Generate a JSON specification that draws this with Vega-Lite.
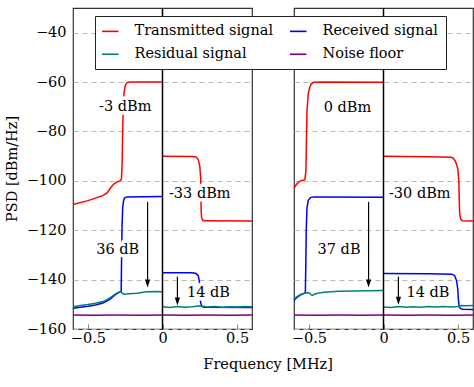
{
  "$schema": "https://vega.github.io/schema/vega-lite/v6.json",
  "padding": {"left": 3, "top": 6, "right": 0, "bottom": 0},
  "datasets": {
    "curves": [
      {"chart":"A","part":"L","series":"Transmitted signal","freq":-0.6,"psd":-109.6},
      {"chart":"A","part":"L","series":"Transmitted signal","freq":-0.5,"psd":-108},
      {"chart":"A","part":"L","series":"Transmitted signal","freq":-0.45,"psd":-107},
      {"chart":"A","part":"L","series":"Transmitted signal","freq":-0.4,"psd":-106},
      {"chart":"A","part":"L","series":"Transmitted signal","freq":-0.37,"psd":-104.8},
      {"chart":"A","part":"L","series":"Transmitted signal","freq":-0.345,"psd":-102.6},
      {"chart":"A","part":"L","series":"Transmitted signal","freq":-0.325,"psd":-101.2},
      {"chart":"A","part":"L","series":"Transmitted signal","freq":-0.305,"psd":-100.4},
      {"chart":"A","part":"L","series":"Transmitted signal","freq":-0.285,"psd":-100},
      {"chart":"A","part":"L","series":"Transmitted signal","freq":-0.275,"psd":-99.2},
      {"chart":"A","part":"L","series":"Transmitted signal","freq":-0.27,"psd":-92},
      {"chart":"A","part":"L","series":"Transmitted signal","freq":-0.267,"psd":-80},
      {"chart":"A","part":"L","series":"Transmitted signal","freq":-0.263,"psd":-70},
      {"chart":"A","part":"L","series":"Transmitted signal","freq":-0.258,"psd":-64.5},
      {"chart":"A","part":"L","series":"Transmitted signal","freq":-0.25,"psd":-61.5},
      {"chart":"A","part":"L","series":"Transmitted signal","freq":-0.24,"psd":-60.3},
      {"chart":"A","part":"L","series":"Transmitted signal","freq":-0.22,"psd":-60},
      {"chart":"A","part":"L","series":"Transmitted signal","freq":0,"psd":-60},
      {"chart":"A","part":"L","series":"Received signal","freq":-0.6,"psd":-151.6},
      {"chart":"A","part":"L","series":"Received signal","freq":-0.5,"psd":-150.8},
      {"chart":"A","part":"L","series":"Received signal","freq":-0.45,"psd":-150.3},
      {"chart":"A","part":"L","series":"Received signal","freq":-0.4,"psd":-149.5},
      {"chart":"A","part":"L","series":"Received signal","freq":-0.37,"psd":-148.6},
      {"chart":"A","part":"L","series":"Received signal","freq":-0.345,"psd":-147.6},
      {"chart":"A","part":"L","series":"Received signal","freq":-0.32,"psd":-146.3},
      {"chart":"A","part":"L","series":"Received signal","freq":-0.3,"psd":-145.5},
      {"chart":"A","part":"L","series":"Received signal","freq":-0.285,"psd":-145},
      {"chart":"A","part":"L","series":"Received signal","freq":-0.277,"psd":-144.7},
      {"chart":"A","part":"L","series":"Received signal","freq":-0.274,"psd":-130},
      {"chart":"A","part":"L","series":"Received signal","freq":-0.271,"psd":-118},
      {"chart":"A","part":"L","series":"Received signal","freq":-0.267,"psd":-111},
      {"chart":"A","part":"L","series":"Received signal","freq":-0.262,"psd":-108.3},
      {"chart":"A","part":"L","series":"Received signal","freq":-0.255,"psd":-107},
      {"chart":"A","part":"L","series":"Received signal","freq":-0.24,"psd":-106.5},
      {"chart":"A","part":"L","series":"Received signal","freq":0,"psd":-106.3},
      {"chart":"A","part":"L","series":"Residual signal","freq":-0.6,"psd":-151},
      {"chart":"A","part":"L","series":"Residual signal","freq":-0.55,"psd":-150.5},
      {"chart":"A","part":"L","series":"Residual signal","freq":-0.5,"psd":-150.1},
      {"chart":"A","part":"L","series":"Residual signal","freq":-0.45,"psd":-149.6},
      {"chart":"A","part":"L","series":"Residual signal","freq":-0.4,"psd":-148.9},
      {"chart":"A","part":"L","series":"Residual signal","freq":-0.37,"psd":-148},
      {"chart":"A","part":"L","series":"Residual signal","freq":-0.345,"psd":-147.1},
      {"chart":"A","part":"L","series":"Residual signal","freq":-0.32,"psd":-146},
      {"chart":"A","part":"L","series":"Residual signal","freq":-0.3,"psd":-145.3},
      {"chart":"A","part":"L","series":"Residual signal","freq":-0.285,"psd":-144.9},
      {"chart":"A","part":"L","series":"Residual signal","freq":-0.275,"psd":-145.2},
      {"chart":"A","part":"L","series":"Residual signal","freq":-0.26,"psd":-145.9},
      {"chart":"A","part":"L","series":"Residual signal","freq":-0.24,"psd":-145.8},
      {"chart":"A","part":"L","series":"Residual signal","freq":-0.2,"psd":-145.6},
      {"chart":"A","part":"L","series":"Residual signal","freq":-0.17,"psd":-145.5},
      {"chart":"A","part":"L","series":"Residual signal","freq":-0.13,"psd":-145.1},
      {"chart":"A","part":"L","series":"Residual signal","freq":-0.1,"psd":-144.9},
      {"chart":"A","part":"L","series":"Residual signal","freq":-0.05,"psd":-144.8},
      {"chart":"A","part":"L","series":"Residual signal","freq":0,"psd":-144.9},
      {"chart":"A","part":"L","series":"Noise floor","freq":-0.6,"psd":-154.3},
      {"chart":"A","part":"L","series":"Noise floor","freq":-0.45,"psd":-154.4},
      {"chart":"A","part":"L","series":"Noise floor","freq":-0.3,"psd":-154.3},
      {"chart":"A","part":"L","series":"Noise floor","freq":-0.15,"psd":-154.4},
      {"chart":"A","part":"L","series":"Noise floor","freq":0,"psd":-154.3},

      {"chart":"A","part":"R","series":"Transmitted signal","freq":0,"psd":-90},
      {"chart":"A","part":"R","series":"Transmitted signal","freq":0.2,"psd":-90.1},
      {"chart":"A","part":"R","series":"Transmitted signal","freq":0.225,"psd":-90.3},
      {"chart":"A","part":"R","series":"Transmitted signal","freq":0.24,"psd":-91.5},
      {"chart":"A","part":"R","series":"Transmitted signal","freq":0.25,"psd":-94},
      {"chart":"A","part":"R","series":"Transmitted signal","freq":0.256,"psd":-99},
      {"chart":"A","part":"R","series":"Transmitted signal","freq":0.258,"psd":-106},
      {"chart":"A","part":"R","series":"Transmitted signal","freq":0.259,"psd":-112},
      {"chart":"A","part":"R","series":"Transmitted signal","freq":0.262,"psd":-114.8},
      {"chart":"A","part":"R","series":"Transmitted signal","freq":0.268,"psd":-115.8},
      {"chart":"A","part":"R","series":"Transmitted signal","freq":0.28,"psd":-116.2},
      {"chart":"A","part":"R","series":"Transmitted signal","freq":0.6,"psd":-116.3},
      {"chart":"A","part":"R","series":"Received signal","freq":0,"psd":-137.2},
      {"chart":"A","part":"R","series":"Received signal","freq":0.2,"psd":-137.2},
      {"chart":"A","part":"R","series":"Received signal","freq":0.225,"psd":-137.5},
      {"chart":"A","part":"R","series":"Received signal","freq":0.24,"psd":-138.5},
      {"chart":"A","part":"R","series":"Received signal","freq":0.248,"psd":-141},
      {"chart":"A","part":"R","series":"Received signal","freq":0.252,"psd":-145},
      {"chart":"A","part":"R","series":"Received signal","freq":0.255,"psd":-149},
      {"chart":"A","part":"R","series":"Received signal","freq":0.262,"psd":-150.6},
      {"chart":"A","part":"R","series":"Received signal","freq":0.275,"psd":-151.2},
      {"chart":"A","part":"R","series":"Received signal","freq":0.6,"psd":-151.3},
      {"chart":"A","part":"R","series":"Residual signal","freq":0,"psd":-151},
      {"chart":"A","part":"R","series":"Residual signal","freq":0.05,"psd":-151.3},
      {"chart":"A","part":"R","series":"Residual signal","freq":0.1,"psd":-150.9},
      {"chart":"A","part":"R","series":"Residual signal","freq":0.15,"psd":-151.2},
      {"chart":"A","part":"R","series":"Residual signal","freq":0.2,"psd":-151},
      {"chart":"A","part":"R","series":"Residual signal","freq":0.25,"psd":-150.6},
      {"chart":"A","part":"R","series":"Residual signal","freq":0.3,"psd":-151.1},
      {"chart":"A","part":"R","series":"Residual signal","freq":0.35,"psd":-150.9},
      {"chart":"A","part":"R","series":"Residual signal","freq":0.4,"psd":-151.2},
      {"chart":"A","part":"R","series":"Residual signal","freq":0.45,"psd":-151},
      {"chart":"A","part":"R","series":"Residual signal","freq":0.5,"psd":-151.1},
      {"chart":"A","part":"R","series":"Residual signal","freq":0.55,"psd":-150.9},
      {"chart":"A","part":"R","series":"Residual signal","freq":0.6,"psd":-151},
      {"chart":"A","part":"R","series":"Noise floor","freq":0,"psd":-154.3},
      {"chart":"A","part":"R","series":"Noise floor","freq":0.15,"psd":-154.4},
      {"chart":"A","part":"R","series":"Noise floor","freq":0.3,"psd":-154.3},
      {"chart":"A","part":"R","series":"Noise floor","freq":0.45,"psd":-154.4},
      {"chart":"A","part":"R","series":"Noise floor","freq":0.6,"psd":-154.3},

      {"chart":"B","part":"L","series":"Transmitted signal","freq":-0.6,"psd":-103},
      {"chart":"B","part":"L","series":"Transmitted signal","freq":-0.59,"psd":-102},
      {"chart":"B","part":"L","series":"Transmitted signal","freq":-0.575,"psd":-100.8},
      {"chart":"B","part":"L","series":"Transmitted signal","freq":-0.56,"psd":-100.1},
      {"chart":"B","part":"L","series":"Transmitted signal","freq":-0.54,"psd":-99.8},
      {"chart":"B","part":"L","series":"Transmitted signal","freq":-0.527,"psd":-99.5},
      {"chart":"B","part":"L","series":"Transmitted signal","freq":-0.52,"psd":-96},
      {"chart":"B","part":"L","series":"Transmitted signal","freq":-0.517,"psd":-85},
      {"chart":"B","part":"L","series":"Transmitted signal","freq":-0.513,"psd":-72},
      {"chart":"B","part":"L","series":"Transmitted signal","freq":-0.505,"psd":-65},
      {"chart":"B","part":"L","series":"Transmitted signal","freq":-0.495,"psd":-62.3},
      {"chart":"B","part":"L","series":"Transmitted signal","freq":-0.485,"psd":-60.8},
      {"chart":"B","part":"L","series":"Transmitted signal","freq":-0.47,"psd":-60.1},
      {"chart":"B","part":"L","series":"Transmitted signal","freq":-0.4,"psd":-60},
      {"chart":"B","part":"L","series":"Transmitted signal","freq":0,"psd":-60.1},
      {"chart":"B","part":"L","series":"Received signal","freq":-0.6,"psd":-148.3},
      {"chart":"B","part":"L","series":"Received signal","freq":-0.58,"psd":-147.2},
      {"chart":"B","part":"L","series":"Received signal","freq":-0.555,"psd":-146.2},
      {"chart":"B","part":"L","series":"Received signal","freq":-0.53,"psd":-145.5},
      {"chart":"B","part":"L","series":"Received signal","freq":-0.524,"psd":-145.3},
      {"chart":"B","part":"L","series":"Received signal","freq":-0.521,"psd":-135},
      {"chart":"B","part":"L","series":"Received signal","freq":-0.518,"psd":-120},
      {"chart":"B","part":"L","series":"Received signal","freq":-0.513,"psd":-111},
      {"chart":"B","part":"L","series":"Received signal","freq":-0.505,"psd":-108},
      {"chart":"B","part":"L","series":"Received signal","freq":-0.49,"psd":-106.8},
      {"chart":"B","part":"L","series":"Received signal","freq":-0.47,"psd":-106.5},
      {"chart":"B","part":"L","series":"Received signal","freq":0,"psd":-106.6},
      {"chart":"B","part":"L","series":"Residual signal","freq":-0.6,"psd":-147.8},
      {"chart":"B","part":"L","series":"Residual signal","freq":-0.58,"psd":-146.9},
      {"chart":"B","part":"L","series":"Residual signal","freq":-0.555,"psd":-146},
      {"chart":"B","part":"L","series":"Residual signal","freq":-0.53,"psd":-145.5},
      {"chart":"B","part":"L","series":"Residual signal","freq":-0.51,"psd":-145.3},
      {"chart":"B","part":"L","series":"Residual signal","freq":-0.497,"psd":-145.4},
      {"chart":"B","part":"L","series":"Residual signal","freq":-0.485,"psd":-146.2},
      {"chart":"B","part":"L","series":"Residual signal","freq":-0.475,"psd":-146.4},
      {"chart":"B","part":"L","series":"Residual signal","freq":-0.46,"psd":-145.8},
      {"chart":"B","part":"L","series":"Residual signal","freq":-0.43,"psd":-145.4},
      {"chart":"B","part":"L","series":"Residual signal","freq":-0.4,"psd":-145.1},
      {"chart":"B","part":"L","series":"Residual signal","freq":-0.35,"psd":-144.9},
      {"chart":"B","part":"L","series":"Residual signal","freq":-0.3,"psd":-144.7},
      {"chart":"B","part":"L","series":"Residual signal","freq":-0.2,"psd":-144.6},
      {"chart":"B","part":"L","series":"Residual signal","freq":-0.1,"psd":-144.5},
      {"chart":"B","part":"L","series":"Residual signal","freq":0,"psd":-144.4},
      {"chart":"B","part":"L","series":"Noise floor","freq":-0.6,"psd":-154.3},
      {"chart":"B","part":"L","series":"Noise floor","freq":-0.45,"psd":-154.4},
      {"chart":"B","part":"L","series":"Noise floor","freq":-0.3,"psd":-154.3},
      {"chart":"B","part":"L","series":"Noise floor","freq":-0.15,"psd":-154.4},
      {"chart":"B","part":"L","series":"Noise floor","freq":0,"psd":-154.3},

      {"chart":"B","part":"R","series":"Transmitted signal","freq":0,"psd":-90},
      {"chart":"B","part":"R","series":"Transmitted signal","freq":0.3,"psd":-90.2},
      {"chart":"B","part":"R","series":"Transmitted signal","freq":0.455,"psd":-90.4},
      {"chart":"B","part":"R","series":"Transmitted signal","freq":0.47,"psd":-91},
      {"chart":"B","part":"R","series":"Transmitted signal","freq":0.485,"psd":-92.5},
      {"chart":"B","part":"R","series":"Transmitted signal","freq":0.498,"psd":-95},
      {"chart":"B","part":"R","series":"Transmitted signal","freq":0.505,"psd":-100},
      {"chart":"B","part":"R","series":"Transmitted signal","freq":0.508,"psd":-108},
      {"chart":"B","part":"R","series":"Transmitted signal","freq":0.511,"psd":-113.5},
      {"chart":"B","part":"R","series":"Transmitted signal","freq":0.518,"psd":-115.6},
      {"chart":"B","part":"R","series":"Transmitted signal","freq":0.53,"psd":-116.2},
      {"chart":"B","part":"R","series":"Transmitted signal","freq":0.6,"psd":-116.3},
      {"chart":"B","part":"R","series":"Received signal","freq":0,"psd":-137.5},
      {"chart":"B","part":"R","series":"Received signal","freq":0.3,"psd":-137.6},
      {"chart":"B","part":"R","series":"Received signal","freq":0.46,"psd":-137.8},
      {"chart":"B","part":"R","series":"Received signal","freq":0.478,"psd":-138.5},
      {"chart":"B","part":"R","series":"Received signal","freq":0.49,"psd":-140.5},
      {"chart":"B","part":"R","series":"Received signal","freq":0.498,"psd":-144},
      {"chart":"B","part":"R","series":"Received signal","freq":0.502,"psd":-148},
      {"chart":"B","part":"R","series":"Received signal","freq":0.507,"psd":-150.8},
      {"chart":"B","part":"R","series":"Received signal","freq":0.515,"psd":-151.7},
      {"chart":"B","part":"R","series":"Received signal","freq":0.53,"psd":-152},
      {"chart":"B","part":"R","series":"Received signal","freq":0.6,"psd":-152.1},
      {"chart":"B","part":"R","series":"Residual signal","freq":0,"psd":-151.1},
      {"chart":"B","part":"R","series":"Residual signal","freq":0.05,"psd":-151.3},
      {"chart":"B","part":"R","series":"Residual signal","freq":0.1,"psd":-150.9},
      {"chart":"B","part":"R","series":"Residual signal","freq":0.15,"psd":-151.2},
      {"chart":"B","part":"R","series":"Residual signal","freq":0.2,"psd":-151},
      {"chart":"B","part":"R","series":"Residual signal","freq":0.25,"psd":-151.2},
      {"chart":"B","part":"R","series":"Residual signal","freq":0.3,"psd":-150.9},
      {"chart":"B","part":"R","series":"Residual signal","freq":0.35,"psd":-151.1},
      {"chart":"B","part":"R","series":"Residual signal","freq":0.4,"psd":-150.9},
      {"chart":"B","part":"R","series":"Residual signal","freq":0.45,"psd":-151.1},
      {"chart":"B","part":"R","series":"Residual signal","freq":0.5,"psd":-150.9},
      {"chart":"B","part":"R","series":"Residual signal","freq":0.52,"psd":-150.5},
      {"chart":"B","part":"R","series":"Residual signal","freq":0.55,"psd":-150.6},
      {"chart":"B","part":"R","series":"Residual signal","freq":0.6,"psd":-150.5},
      {"chart":"B","part":"R","series":"Noise floor","freq":0,"psd":-154.3},
      {"chart":"B","part":"R","series":"Noise floor","freq":0.15,"psd":-154.4},
      {"chart":"B","part":"R","series":"Noise floor","freq":0.3,"psd":-154.3},
      {"chart":"B","part":"R","series":"Noise floor","freq":0.45,"psd":-154.4},
      {"chart":"B","part":"R","series":"Noise floor","freq":0.6,"psd":-154.3}
    ],
    "notes": [
      {"chart":"A","label":"-3 dBm","freq":-0.25,"psd":-70.1},
      {"chart":"A","label":"36 dB","freq":-0.3,"psd":-128},
      {"chart":"A","label":"-33 dBm","freq":0.25,"psd":-105.5},
      {"chart":"A","label":"14 dB","freq":0.308,"psd":-145.5},
      {"chart":"B","label":"0 dBm","freq":-0.242,"psd":-70.5},
      {"chart":"B","label":"37 dB","freq":-0.298,"psd":-128},
      {"chart":"B","label":"-30 dBm","freq":0.243,"psd":-105.5},
      {"chart":"B","label":"14 dB","freq":0.298,"psd":-145.5}
    ],
    "arrows": [
      {"chart":"A","freq":-0.1,"top":-108.5,"head":-141.6},
      {"chart":"A","freq":0.1,"top":-138.8,"head":-148.9},
      {"chart":"B","freq":-0.1,"top":-108.5,"head":-141.6},
      {"chart":"B","freq":0.1,"top":-138.8,"head":-148.6}
    ],
    "divider": [{"freq": 0}]
  },
  "title": {"text": "Frequency [MHz]", "orient": "bottom", "anchor": "middle", "offset": 13, "dx": 28, "fontSize": 14.5, "font": "DejaVu Serif", "fontWeight": "normal", "color": "black"},
  "spacing": 42,
  "bounds": "flush",
  "hconcat": [
    {
      "width": 179,
      "height": 321,
      "view": {"stroke": "#333", "strokeWidth": 1.2},
      "layer": [
        {
          "data": {"name": "curves"},
          "transform": [{"filter": "datum.chart === 'A'"}],
          "mark": {"type": "line", "strokeWidth": 1.5},
          "encoding": {
            "x": {"field": "freq", "type": "quantitative", "scale": {"domain": [-0.6, 0.6], "nice": false, "zero": false},
                  "axis": {"values": [-0.5, 0, 0.5], "format": "~g", "title": null, "domain": false, "tickSize": -5, "tickColor": "#888", "labelPadding": 7, "labelFlush": false, "labelOverlap": false, "grid": false, "labelFont": "DejaVu Serif", "labelFontSize": 14.5, "labelColor": "black"}},
            "y": {"field": "psd", "type": "quantitative", "scale": {"domain": [-160, -30], "nice": false, "zero": false},
                  "axis": {"values": [-160, -140, -120, -100, -80, -60, -40], "title": "PSD [dBm/Hz]", "domain": false, "ticks": false, "labelPadding": 7, "titlePadding": 7, "grid": true, "gridColor": "#b8b8b8", "gridDash": [5, 4], "labelFont": "DejaVu Serif", "labelFontSize": 14.5, "labelColor": "black", "titleFont": "DejaVu Serif", "titleFontSize": 14.5, "titleFontWeight": "normal", "titleColor": "black"}},
            "color": {"field": "series", "type": "nominal",
                      "scale": {"domain": ["Transmitted signal", "Residual signal", "Received signal", "Noise floor"], "range": ["#ff0000", "#008080", "#0000ff", "#800080"]},
                      "legend": {"orient": "none", "legendX": 22, "legendY": 8, "columns": 2, "title": null, "symbolType": "M-1.65,0L1.65,0", "symbolSize": 100, "symbolStrokeWidth": 1.6, "labelFont": "DejaVu Serif", "labelFontSize": 14.5, "labelColor": "black", "labelOffset": 17, "labelLimit": 300, "columnPadding": 12, "rowPadding": 8, "padding": 8, "strokeColor": "#222", "fillColor": "white"}},
            "detail": {"field": "part"}
          }
        },
        {
          "data": {"name": "divider"},
          "mark": {"type": "rule", "color": "black", "strokeWidth": 1.5},
          "encoding": {"x": {"field": "freq", "type": "quantitative"}}
        },
        {
          "data": {"name": "notes"},
          "transform": [{"filter": "datum.chart === 'A'"}],
          "mark": {"type": "text", "fill": "white", "stroke": "white", "strokeWidth": 7, "strokeJoin": "round", "fontSize": 14.5, "font": "DejaVu Serif", "align": "center", "baseline": "middle"},
          "encoding": {"x": {"field": "freq", "type": "quantitative"}, "y": {"field": "psd", "type": "quantitative"}, "text": {"field": "label"}}
        },
        {
          "data": {"name": "notes"},
          "transform": [{"filter": "datum.chart === 'A'"}],
          "mark": {"type": "text", "color": "black", "fontSize": 14.5, "font": "DejaVu Serif", "align": "center", "baseline": "middle"},
          "encoding": {"x": {"field": "freq", "type": "quantitative"}, "y": {"field": "psd", "type": "quantitative"}, "text": {"field": "label"}}
        },
        {
          "data": {"name": "arrows"},
          "transform": [{"filter": "datum.chart === 'A'"}],
          "mark": {"type": "rule", "color": "black", "strokeWidth": 1.2},
          "encoding": {"x": {"field": "freq", "type": "quantitative"}, "y": {"field": "top", "type": "quantitative"}, "y2": {"field": "head"}}
        },
        {
          "data": {"name": "arrows"},
          "transform": [{"filter": "datum.chart === 'A'"}],
          "mark": {"type": "point", "shape": "M-0.65,-1L0.65,-1L0,1Z", "size": 64, "filled": true, "color": "black", "opacity": 1},
          "encoding": {"x": {"field": "freq", "type": "quantitative"}, "y": {"field": "head", "type": "quantitative"}}
        }
      ]
    },
    {
      "width": 179,
      "height": 321,
      "view": {"stroke": "#333", "strokeWidth": 1.2},
      "layer": [
        {
          "data": {"name": "curves"},
          "transform": [{"filter": "datum.chart === 'B'"}],
          "mark": {"type": "line", "strokeWidth": 1.5},
          "encoding": {
            "x": {"field": "freq", "type": "quantitative", "scale": {"domain": [-0.6, 0.6], "nice": false, "zero": false},
                  "axis": {"values": [-0.5, 0, 0.5], "format": "~g", "title": null, "domain": false, "tickSize": -5, "tickColor": "#888", "labelPadding": 7, "labelFlush": false, "labelOverlap": false, "grid": false, "labelFont": "DejaVu Serif", "labelFontSize": 14.5, "labelColor": "black"}},
            "y": {"field": "psd", "type": "quantitative", "scale": {"domain": [-160, -30], "nice": false, "zero": false},
                  "axis": {"values": [-160, -140, -120, -100, -80, -60, -40], "title": null, "domain": false, "ticks": false, "labels": false, "grid": true, "gridColor": "#b8b8b8", "gridDash": [5, 4]}},
            "color": {"field": "series", "type": "nominal",
                      "scale": {"domain": ["Transmitted signal", "Residual signal", "Received signal", "Noise floor"], "range": ["#ff0000", "#008080", "#0000ff", "#800080"]},
                      "legend": {"orient": "none", "legendX": 22, "legendY": 8, "columns": 2, "title": null, "symbolType": "M-1.65,0L1.65,0", "symbolSize": 100, "symbolStrokeWidth": 1.6, "labelFont": "DejaVu Serif", "labelFontSize": 14.5, "labelColor": "black", "labelOffset": 17, "labelLimit": 300, "columnPadding": 12, "rowPadding": 8, "padding": 8, "strokeColor": "#222", "fillColor": "white"}},
            "detail": {"field": "part"}
          }
        },
        {
          "data": {"name": "divider"},
          "mark": {"type": "rule", "color": "black", "strokeWidth": 1.5},
          "encoding": {"x": {"field": "freq", "type": "quantitative"}}
        },
        {
          "data": {"name": "notes"},
          "transform": [{"filter": "datum.chart === 'B'"}],
          "mark": {"type": "text", "fill": "white", "stroke": "white", "strokeWidth": 7, "strokeJoin": "round", "fontSize": 14.5, "font": "DejaVu Serif", "align": "center", "baseline": "middle"},
          "encoding": {"x": {"field": "freq", "type": "quantitative"}, "y": {"field": "psd", "type": "quantitative"}, "text": {"field": "label"}}
        },
        {
          "data": {"name": "notes"},
          "transform": [{"filter": "datum.chart === 'B'"}],
          "mark": {"type": "text", "color": "black", "fontSize": 14.5, "font": "DejaVu Serif", "align": "center", "baseline": "middle"},
          "encoding": {"x": {"field": "freq", "type": "quantitative"}, "y": {"field": "psd", "type": "quantitative"}, "text": {"field": "label"}}
        },
        {
          "data": {"name": "arrows"},
          "transform": [{"filter": "datum.chart === 'B'"}],
          "mark": {"type": "rule", "color": "black", "strokeWidth": 1.2},
          "encoding": {"x": {"field": "freq", "type": "quantitative"}, "y": {"field": "top", "type": "quantitative"}, "y2": {"field": "head"}}
        },
        {
          "data": {"name": "arrows"},
          "transform": [{"filter": "datum.chart === 'B'"}],
          "mark": {"type": "point", "shape": "M-0.65,-1L0.65,-1L0,1Z", "size": 64, "filled": true, "color": "black", "opacity": 1},
          "encoding": {"x": {"field": "freq", "type": "quantitative"}, "y": {"field": "head", "type": "quantitative"}}
        }
      ]
    }
  ]
}
